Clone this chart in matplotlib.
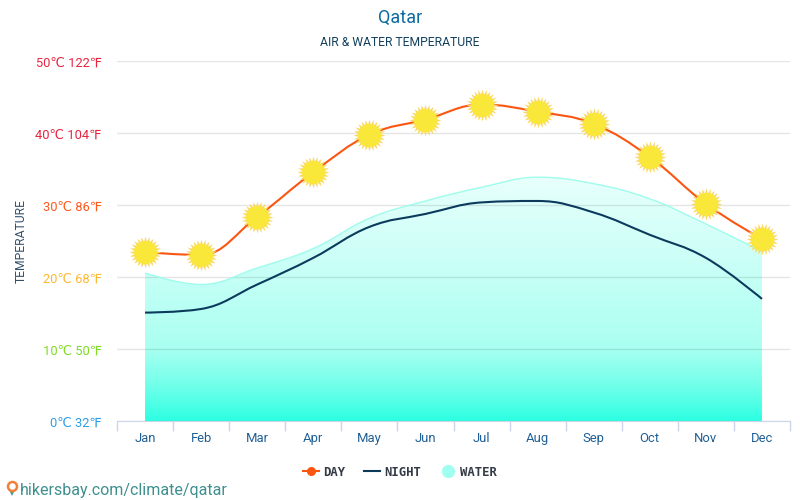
import matplotlib
matplotlib.use("Agg")
import matplotlib.pyplot as plt
import numpy as np
from matplotlib.colors import LinearSegmentedColormap
from matplotlib.lines import Line2D
from matplotlib.patches import PathPatch
from matplotlib.path import Path

plt.rcParams["font.family"] = ["Roboto", "DejaVu Sans"]

months = ["Jan", "Feb", "Mar", "Apr", "May", "Jun", "Jul", "Aug", "Sep", "Oct", "Nov", "Dec"]
day = [23.5, 23.1, 28.4, 34.6, 39.8, 41.9, 44.0, 43.0, 41.3, 36.7, 30.2, 25.3]
night = [15.1, 15.6, 19.0, 22.7, 27.0, 28.8, 30.4, 30.6, 29.0, 25.9, 22.7, 17.0]
water = [20.6, 19.0, 21.3, 24.0, 28.2, 30.6, 32.5, 33.9, 33.0, 30.9, 27.4, 23.6]
y_ticks = [0, 10, 20, 30, 40, 50]
y_labels = ["0℃ 32℉", "10℃ 50℉", "20℃ 68℉", "30℃ 86℉", "40℃ 104℉", "50℃ 122℉"]
y_colors = ["#2b9fe6", "#7fdc22", "#fdb933", "#fd5a1e", "#e8253f", "#e8253f"]

W, H = 800, 500


def spline_path(xs, ys, smoothing=1.5):
    # same control points as a highcharts spline
    verts = [(xs[0], ys[0])]
    codes = [Path.MOVETO]
    n = len(xs)
    left = [None] * n
    right = [None] * n
    for i in range(n):
        if i == 0 or i == n - 1:
            left[i] = right[i] = (xs[i], ys[i])
            continue
        lx = (smoothing * xs[i] + xs[i - 1]) / (smoothing + 1)
        ly = (smoothing * ys[i] + ys[i - 1]) / (smoothing + 1)
        rx = (smoothing * xs[i] + xs[i + 1]) / (smoothing + 1)
        ry = (smoothing * ys[i] + ys[i + 1]) / (smoothing + 1)
        corr = (ry - ly) * (rx - xs[i]) / (rx - lx) + ys[i] - ry
        ly += corr
        ry += corr
        if (ly > ys[i - 1] and ly > ys[i]) or (ly < ys[i - 1] and ly < ys[i]):
            ly = max(ys[i - 1], ys[i]) if ly > ys[i] else min(ys[i - 1], ys[i])
            ry = 2 * ys[i] - ly
        elif (ry > ys[i + 1] and ry > ys[i]) or (ry < ys[i + 1] and ry < ys[i]):
            ry = max(ys[i + 1], ys[i]) if ry > ys[i] else min(ys[i + 1], ys[i])
            ly = 2 * ys[i] - ry
        left[i] = (lx, ly)
        right[i] = (rx, ry)
    for i in range(1, n):
        verts += [right[i - 1], left[i], (xs[i], ys[i])]
        codes += [Path.CURVE4] * 3
    return Path(verts, codes)


fig = plt.figure(figsize=(W / 100, H / 100), dpi=100)
ax = fig.add_axes([117 / W, 1 - 421.3 / H, 673 / W, 360 / H])
x = np.arange(len(months))

# water area with vertical gradient
water_line = spline_path(x, water)
area_verts = np.vstack([water_line.vertices, [[x[-1], 0], [x[0], 0], [x[0], water[0]]]])
area_codes = list(water_line.codes) + [Path.LINETO, Path.LINETO, Path.CLOSEPOLY]
area = PathPatch(Path(area_verts, area_codes), fc="none", ec="none", transform=ax.transData)
ax.add_patch(area)
water_cmap = LinearSegmentedColormap.from_list(
    "water", [(0, "#2dffe2"), (0.14, "#70ffea"), (0.3, "#aafff1"), (0.6, "#c6fff6"), (1, "#e8fffc")]
)
grad = np.linspace(0, 1, 256).reshape(-1, 1)
im = ax.imshow(grad, extent=(-0.5, 11.5, 0, max(water)), origin="lower", aspect="auto",
               cmap=water_cmap, zorder=2)
im.set_clip_path(area)
ax.set_xlim(-0.5, 11.5)
ax.set_ylim(0, 50)
ax.add_patch(PathPatch(water_line, fc="none", ec="#9ffcec", lw=1, zorder=3))

ax.add_patch(PathPatch(spline_path(x, night), fc="none", ec="#0b3a5c", lw=1.5, zorder=4))
ax.add_patch(PathPatch(spline_path(x, day), fc="none", ec="#fb5512", lw=1.5, zorder=5))
sun = Path.unit_regular_star(24, 0.68)
ax.plot(x, day, ls="none", marker=sun, ms=23, mfc="#fbd860", mew=0, zorder=6)
ax.plot(x, day, ls="none", marker="o", ms=16.5, mfc="#f9e83a", mew=0, zorder=7)

ax.set_yticks(y_ticks, y_labels, fontsize=9.3)
for lab, col in zip(ax.get_yticklabels(), y_colors):
    lab.set_color(col)
ax.tick_params(axis="y", length=0, pad=11)
ax.set_xticks(x, months, fontsize=9.4, color="#1f5f95")
ax.set_xticks(np.append(x - 0.5, 11.5), minor=True)
ax.tick_params(axis="x", which="major", length=0, pad=7.5)
ax.tick_params(axis="x", which="minor", length=7, width=1, color="#ccd6eb")
ax.grid(axis="y", color="black", alpha=0.1, lw=1)
ax.set_axisbelow(False)
for name in ["top", "right", "left"]:
    ax.spines[name].set_visible(False)
ax.spines["bottom"].set_color("#ccd6eb")

fig.text(400 / W, 1 - 18 / H, "Qatar", ha="center", va="center", fontsize=13, color="#0b6aa0")
fig.text(400 / W, 1 - 42 / H, "AIR & WATER TEMPERATURE", ha="center", va="center", fontsize=8.7, color="#12405e")
fig.text(21.5 / W, 1 - 241 / H, "TEMPERATURE", ha="center", va="center", rotation=90, fontsize=8.7, color="#33506a")
fig.text(20 / W, 1 - 490 / H, "hikersbay.com/climate/qatar", ha="left", va="center", fontsize=11.5, color="#3f8f8f")

# map pin next to the link
fig.add_artist(Line2D([12 / W], [1 - 491 / H], marker="v", ms=6.5, color="#4a9a9a", mew=0, transform=fig.transFigure))
fig.add_artist(Line2D([12 / W], [1 - 486 / H], marker="o", ms=6.5, mfc="white", mec="#f0803a", mew=1.8,
                      transform=fig.transFigure))

handles = [
    Line2D([], [], color="#fb5512", lw=1.5, marker="o", ms=5.5),
    Line2D([], [], color="#0b3a5c", lw=1.5),
    Line2D([], [], color="#a0fff0", ls="none", marker="o", ms=8.5),
]
fig.legend(handles, ["DAY", "NIGHT", "WATER"], loc="center", bbox_to_anchor=(400 / W, 1 - 472 / H), ncols=3,
           frameon=False, handlelength=1.3, handletextpad=0.3, columnspacing=1.6,
           labelcolor="#333a45", prop={"family": "DejaVu Sans Mono", "weight": "bold", "size": 8.8})

fig.savefig("out.png", dpi=100)
